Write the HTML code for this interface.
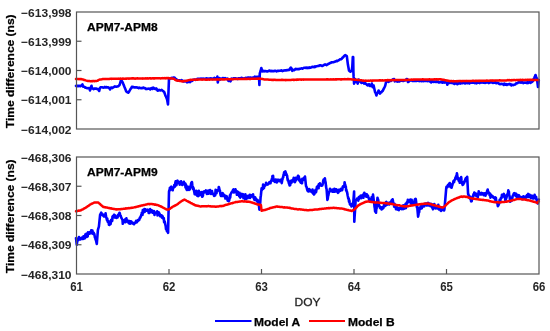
<!DOCTYPE html>
<html><head><meta charset="utf-8"><style>
html,body{margin:0;padding:0;background:#fff;}
svg{display:block;}
text{font-family:"Liberation Sans",Arial,sans-serif;stroke-linejoin:round;}
.ytk{font-size:11.3px;font-weight:bold;fill:#262626;stroke:#262626;stroke-width:0px;}
.xtk{font-size:12px;font-weight:bold;fill:#262626;stroke:#262626;stroke-width:0px;}
.ttl{font-size:11.4px;font-weight:bold;fill:#000;stroke:#000;stroke-width:0.25px;}
.yl{font-size:11px;font-weight:bold;fill:#000;stroke:#000;stroke-width:0.25px;}
.xl{font-size:11.1px;fill:#262626;stroke:#262626;stroke-width:0.3px;}
.lg{font-size:11.1px;font-weight:bold;fill:#000;stroke:#000;stroke-width:0.25px;}
</style></head><body>
<svg width="550" height="331" viewBox="0 0 550 331">
<rect width="550" height="331" fill="#fff"/>
<polyline points="76.0,85.9 76.6,85.6 77.3,86.1 77.9,86.3 78.6,85.9 79.2,85.8 79.9,86.1 80.5,86.2 81.1,85.7 81.8,85.3 82.4,84.4 83.3,86.8 84.0,86.7 84.7,86.9 85.3,87.7 86.0,87.7 86.7,87.9 87.4,88.3 88.2,88.2 88.9,88.1 89.6,88.2 90.0,90.5 90.6,88.2 91.5,85.8 92.0,88.4 92.7,88.4 93.5,89.2 94.2,88.6 94.9,88.6 95.6,88.6 96.4,88.6 97.1,89.0 97.8,89.1 98.5,90.0 99.2,90.9 100.0,87.8 100.5,87.3 101.1,87.2 101.7,87.3 102.3,87.4 102.9,87.5 103.6,87.6 104.2,87.4 104.8,86.9 105.4,87.5 106.0,87.3 106.7,87.1 107.4,87.5 108.2,87.4 108.9,87.9 109.6,88.0 110.0,89.5 110.5,87.9 111.1,87.5 111.7,87.6 112.3,88.2 113.0,87.2 113.6,87.2 114.2,86.8 114.9,86.4 115.6,86.6 116.4,86.7 117.1,86.5 117.8,86.4 118.7,85.8 119.6,85.0 120.3,82.5 121.0,80.0 121.9,81.1 122.8,82.7 123.7,85.1 124.6,87.3 125.3,88.9 126.0,90.9 126.8,92.0 127.5,92.0 128.3,92.7 129.2,91.5 130.0,90.0 130.6,88.9 131.3,88.1 131.9,86.8 132.5,86.7 133.2,87.2 133.8,87.1 134.5,87.5 135.1,87.3 135.7,87.5 136.3,87.5 136.9,87.3 137.5,87.7 138.1,87.7 138.7,88.1 139.3,87.6 140.0,87.9 140.6,88.1 141.2,88.0 141.8,88.1 142.4,88.1 143.0,87.8 143.6,87.6 144.2,88.2 144.8,88.0 145.4,88.6 146.0,89.1 146.6,88.8 147.2,88.9 147.8,88.8 148.5,88.8 149.1,88.6 149.7,88.9 150.3,89.4 150.9,88.4 151.5,88.6 152.1,88.0 152.7,89.0 153.3,87.7 154.0,88.1 154.7,88.8 155.5,89.1 156.2,88.4 156.9,89.3 157.6,90.7 158.2,90.5 158.9,89.9 159.6,90.0 160.3,90.5 161.0,90.3 161.7,89.9 162.4,90.5 163.3,91.2 164.2,92.0 164.8,93.7 165.4,95.6 166.0,96.6 167.1,99.6 168.0,104.4 169.0,78.5 169.6,78.6 170.2,78.3 170.8,78.5 171.4,77.8 172.0,78.1 172.6,78.0 173.2,77.6 173.8,77.5 174.7,77.8 175.6,79.0 176.2,79.1 176.8,79.7 177.4,80.0 178.0,80.6 178.6,80.5 179.2,80.3 179.9,80.6 180.5,80.8 181.1,80.6 181.7,80.1 182.4,81.0 183.0,80.8 183.7,81.5 184.3,81.4 185.0,81.0 185.7,81.3 186.3,81.6 187.0,82.3 187.6,82.0 188.3,82.0 189.1,81.9 189.9,82.1 190.7,81.5 191.5,81.0 192.2,81.0 193.0,80.0 193.6,79.7 194.3,79.6 194.9,79.8 195.5,79.9 196.2,79.6 196.8,79.4 197.5,78.7 198.1,78.9 198.7,78.8 199.4,78.7 200.0,78.7 200.6,78.8 201.2,78.6 201.9,78.9 202.5,78.7 203.1,78.6 203.8,78.7 204.4,78.8 205.0,78.9 205.6,78.5 206.2,78.6 206.9,78.3 207.5,79.0 208.1,79.0 208.8,78.6 209.4,78.5 210.0,78.6 210.6,78.3 211.3,78.6 211.9,78.6 212.5,79.1 213.2,78.6 213.8,78.4 214.5,77.9 215.1,78.9 215.7,78.6 216.4,78.1 217.0,78.5 217.4,76.5 217.8,82.5 218.5,78.6 219.1,78.6 219.7,78.2 220.3,79.5 220.9,78.9 221.5,78.7 222.1,78.6 222.7,78.1 223.3,78.6 223.9,78.2 224.5,78.7 225.1,78.1 225.7,78.4 226.3,78.9 226.9,79.0 227.5,78.6 228.5,81.0 229.2,80.8 229.8,80.8 230.5,81.3 231.5,78.7 232.1,78.9 232.7,78.9 233.3,78.4 233.9,78.4 234.5,78.4 235.1,78.3 235.8,78.4 236.4,78.8 237.0,78.7 237.6,79.0 238.2,78.4 238.8,78.4 239.4,78.2 240.0,78.4 240.6,78.3 241.2,78.0 241.9,77.8 242.5,78.4 243.1,78.6 243.7,78.4 244.4,78.5 245.0,78.2 245.6,77.9 246.2,78.0 246.9,77.9 247.5,77.7 248.1,77.5 248.7,77.5 249.4,77.8 250.0,77.8 250.6,77.6 251.2,78.1 251.9,77.7 252.5,77.8 253.1,77.6 253.7,77.8 254.3,77.1 254.9,76.7 255.6,77.3 256.2,76.8 256.8,77.2 257.4,76.7 258.2,76.9 259.0,77.0 259.4,84.9 259.8,73.4 260.6,71.0 261.3,68.0 262.4,71.3 263.0,71.5 263.6,70.8 264.2,71.4 264.8,71.1 265.4,71.1 266.0,71.1 266.6,71.4 267.2,71.4 267.9,71.4 268.5,70.8 269.1,71.0 269.7,70.6 270.3,71.1 270.9,71.3 271.5,70.9 272.1,71.2 272.7,71.1 273.3,71.1 273.9,71.3 274.5,70.8 275.1,70.8 275.7,70.8 276.3,71.4 276.9,71.2 277.5,70.8 278.1,70.9 278.8,70.9 279.4,70.8 280.0,70.7 280.6,70.7 281.2,70.4 281.8,70.5 282.4,71.1 283.0,70.8 283.6,70.6 284.2,70.5 284.9,70.4 285.5,70.4 286.2,70.4 286.8,70.0 287.5,70.2 288.1,70.1 288.8,69.8 289.4,69.9 290.1,68.5 290.8,67.5 291.6,68.5 292.3,70.8 292.9,70.3 293.6,69.9 294.2,70.1 294.9,69.6 295.5,68.9 296.2,69.3 296.8,69.1 297.4,69.0 298.1,69.1 298.7,69.3 299.4,68.9 300.0,68.8 300.7,68.7 301.3,68.4 302.0,68.5 302.6,68.6 303.3,68.2 303.9,67.9 304.6,67.8 305.2,67.7 305.9,67.9 306.5,67.5 307.1,68.1 307.7,67.8 308.3,67.6 309.0,68.0 309.6,67.4 310.2,67.7 310.8,67.7 311.4,67.4 312.0,66.9 312.6,66.8 313.2,66.8 313.8,67.1 314.4,67.1 315.0,66.4 315.6,66.8 316.2,66.3 316.8,66.3 317.5,66.1 318.1,65.9 318.8,65.9 319.4,65.4 320.1,65.5 320.8,65.3 321.4,65.7 322.1,65.9 322.7,66.0 323.4,65.2 324.0,65.0 324.6,64.5 325.2,64.8 325.9,64.5 326.5,65.1 327.1,64.7 327.7,64.4 328.4,63.8 329.2,63.7 329.9,63.0 330.5,63.0 331.2,62.3 331.8,62.4 332.4,62.3 333.0,62.2 333.7,62.1 334.3,61.9 334.9,61.6 335.5,61.5 336.1,61.1 336.8,60.8 337.4,61.1 338.0,60.6 338.6,60.3 339.3,60.1 339.9,59.2 340.6,59.2 341.2,59.1 341.9,58.6 342.6,57.6 343.2,57.4 343.9,56.3 344.5,55.8 345.2,55.0 346.0,55.5 346.8,56.0 347.9,64.6 349.0,70.6 349.7,71.2 350.4,71.7 351.2,71.2 351.8,70.3 352.3,66.8 352.8,57.0 353.2,57.1 353.4,72.0 353.6,76.4 354.1,83.6 355.0,79.0 355.9,81.8 356.8,81.4 357.7,83.6 358.6,79.5 359.3,81.2 360.0,81.4 360.7,81.5 361.4,83.0 362.0,81.9 362.7,82.7 363.4,82.4 364.1,83.6 364.8,82.7 365.5,83.6 366.2,83.7 366.9,84.8 367.5,85.4 368.2,85.0 369.0,84.2 369.7,85.9 370.5,85.9 371.1,85.9 371.8,83.6 372.7,87.3 373.6,85.5 374.5,89.5 375.1,92.2 375.8,93.4 376.4,95.5 377.0,93.7 377.7,92.7 378.6,90.5 379.3,91.9 380.0,93.6 380.7,92.3 381.4,92.3 382.0,91.4 382.7,90.9 383.3,89.6 383.9,88.4 384.5,87.3 385.2,85.7 385.9,82.7 386.6,81.9 387.3,81.4 388.0,80.4 388.7,81.8 389.5,80.5 390.2,80.7 390.9,80.9 391.5,80.5 392.2,80.0 392.8,79.2 393.5,79.3 394.1,79.1 394.8,81.3 395.5,80.9 396.1,80.5 396.8,80.8 397.4,81.6 398.1,81.3 398.7,81.4 399.4,81.4 400.0,80.9 400.6,80.4 401.2,80.6 401.9,80.8 402.5,80.8 403.1,81.0 403.8,80.7 404.4,80.5 405.0,80.5 405.7,80.0 406.3,79.4 407.0,79.0 408.0,82.0 408.7,81.6 409.3,81.2 410.0,80.5 410.6,80.5 411.2,80.4 411.9,80.4 412.5,80.9 413.1,81.0 413.7,81.0 414.3,81.0 414.9,81.0 415.6,80.8 416.2,81.0 416.8,80.9 417.4,80.6 418.1,80.8 418.7,80.7 419.3,81.1 419.9,80.8 420.6,80.9 421.2,81.0 421.8,81.2 422.5,80.7 423.1,80.7 423.7,81.1 424.3,80.6 425.0,81.0 425.6,80.8 426.2,80.9 426.9,80.4 427.5,81.1 428.1,80.8 428.7,80.7 429.4,81.4 430.0,80.9 430.6,81.3 431.3,82.5 431.9,81.3 432.5,81.1 433.1,81.4 433.8,82.0 434.4,81.5 435.0,81.8 435.6,81.9 436.3,81.4 436.9,81.9 437.5,81.7 438.1,81.5 438.8,82.4 439.4,82.4 440.0,82.3 440.6,82.0 441.3,81.6 441.9,82.5 442.5,82.7 443.2,82.5 443.8,81.8 444.4,82.5 445.1,81.9 445.7,82.5 446.4,82.6 447.0,82.5 447.3,84.7 448.0,82.8 448.6,83.0 449.3,83.0 449.9,83.0 450.5,82.6 451.2,82.9 451.8,82.9 452.5,83.1 453.1,83.3 453.7,83.5 454.4,84.0 455.0,83.4 455.6,82.4 456.2,83.5 456.8,83.3 457.4,84.2 458.0,83.7 458.6,82.6 459.2,83.4 459.8,83.0 460.4,83.6 461.0,82.8 461.6,83.1 462.2,83.1 462.8,83.1 463.4,82.9 464.0,82.3 464.6,83.2 465.2,83.4 465.8,83.0 466.4,82.6 467.0,83.1 467.6,83.2 468.2,82.9 468.8,82.9 469.4,83.4 470.0,82.6 470.6,82.7 471.2,82.3 471.8,82.8 472.4,82.6 473.0,82.6 473.6,82.5 474.2,82.6 474.8,83.2 475.4,82.7 476.0,82.7 476.6,83.3 477.2,82.7 477.9,82.3 478.5,82.8 479.1,82.5 479.7,83.1 480.3,82.4 480.9,82.5 481.5,82.3 482.1,82.7 482.7,82.4 483.3,82.6 483.9,82.5 484.5,82.5 485.1,82.9 485.7,82.8 486.3,82.6 486.9,82.4 487.5,82.3 488.2,82.6 488.8,83.2 489.4,82.4 490.0,82.4 490.6,82.4 491.2,82.3 491.8,82.3 492.4,82.5 493.0,82.9 493.6,82.5 494.2,82.6 494.9,82.6 495.5,82.2 496.2,83.1 496.8,83.1 497.4,82.8 498.1,83.0 498.7,83.5 499.4,84.1 500.0,83.8 500.6,84.1 501.2,84.0 501.9,83.8 502.5,84.1 503.1,84.0 503.8,84.9 504.4,83.7 505.0,84.0 505.6,84.7 506.2,84.1 506.9,84.9 507.5,84.3 508.1,84.4 508.8,84.3 509.4,83.9 510.0,84.5 510.7,84.2 511.3,85.5 512.0,84.9 512.7,84.9 513.3,85.1 514.0,84.8 514.7,84.6 515.3,84.4 516.0,83.5 516.7,83.2 517.3,83.3 518.0,82.5 518.6,82.4 519.2,82.0 519.8,82.4 520.4,82.3 521.0,82.7 521.6,82.2 522.2,82.1 522.8,82.4 523.4,83.1 524.0,82.5 524.6,82.6 525.2,82.5 525.8,82.6 526.4,82.9 527.0,83.1 527.6,81.8 528.2,83.0 528.8,82.5 529.4,82.4 530.0,82.5 530.6,82.8 531.2,81.9 531.8,82.1 532.4,81.5 533.0,81.0 533.6,79.2 534.2,78.1 534.9,76.7 535.5,75.0 536.2,77.0 537.0,79.0 538.0,87.0 538.8,80.0" fill="none" stroke="#0000ff" stroke-width="2.6" stroke-linejoin="round" stroke-linecap="round"/>
<polyline points="76.0,79.1 76.6,79.0 77.2,79.1 77.8,79.1 78.4,79.1 79.1,79.2 79.7,79.1 80.3,79.1 80.9,79.2 81.5,79.1 82.2,79.3 82.8,79.4 83.5,79.7 84.2,80.0 84.9,80.1 85.6,80.4 86.4,80.6 87.1,80.8 87.8,80.9 88.4,81.1 89.0,81.1 89.7,81.1 90.3,81.2 90.9,81.2 91.5,81.2 92.1,81.1 92.7,81.2 93.3,81.1 93.9,81.1 94.5,81.2 95.1,81.1 95.7,80.9 96.3,80.9 96.9,80.9 97.6,80.7 98.2,80.2 98.9,79.9 99.6,79.5 100.2,79.5 100.8,79.4 101.4,79.4 102.1,79.2 102.7,79.1 103.3,79.1 103.9,79.1 104.5,79.0 105.1,79.1 105.7,79.1 106.3,78.9 106.9,79.0 107.5,78.9 108.2,78.9 108.8,78.9 109.4,78.9 110.0,78.8 110.6,78.7 111.2,79.0 111.8,78.8 112.4,78.8 113.0,78.7 113.6,78.8 114.3,78.7 114.9,78.7 115.5,78.8 116.1,78.8 116.7,78.7 117.3,78.8 118.0,78.8 118.6,78.6 119.2,78.8 119.8,78.7 120.4,78.6 121.1,78.7 121.7,78.7 122.3,78.7 122.9,78.5 123.5,78.7 124.1,78.7 124.8,78.7 125.4,78.7 126.0,78.6 126.6,78.7 127.2,78.6 127.8,78.6 128.4,78.5 129.0,78.7 129.6,78.6 130.2,78.6 130.8,78.6 131.4,78.6 132.0,78.3 132.6,78.6 133.2,78.3 133.8,78.5 134.4,78.6 135.0,78.7 135.6,78.5 136.2,78.5 136.8,78.5 137.4,78.3 138.0,78.5 138.6,78.5 139.2,78.5 139.8,78.4 140.4,78.4 141.0,78.4 141.6,78.5 142.2,78.4 142.8,78.7 143.4,78.4 144.0,78.4 144.6,78.4 145.2,78.4 145.8,78.3 146.4,78.5 147.0,78.4 147.6,78.3 148.3,78.4 148.9,78.5 149.5,78.2 150.1,78.4 150.7,78.3 151.3,78.5 151.9,78.4 152.5,78.3 153.1,78.3 153.7,78.5 154.3,78.3 154.9,78.5 155.5,78.2 156.2,78.3 156.8,78.3 157.4,78.2 158.0,78.3 158.6,78.3 159.2,78.2 159.8,78.2 160.4,78.4 161.0,78.4 161.6,78.2 162.2,78.3 162.8,78.0 163.4,78.3 164.1,78.1 164.7,78.2 165.3,78.4 165.9,78.1 166.5,78.2 167.1,78.1 167.7,78.2 168.3,78.1 168.9,78.2 169.5,78.4 170.1,78.3 170.8,78.4 171.4,78.6 172.0,78.5 172.6,78.5 173.2,78.8 173.8,78.7 174.6,79.3 175.4,80.0 176.2,80.4 176.8,80.4 177.4,80.7 178.0,80.6 178.6,80.6 179.2,80.8 179.8,80.9 180.4,81.1 181.0,81.1 181.6,81.3 182.2,81.3 182.8,81.4 183.4,81.2 184.1,81.0 184.7,81.1 185.3,81.1 185.9,81.0 186.6,80.8 187.3,80.5 188.1,80.3 188.8,80.1 189.5,79.9 190.2,80.0 190.8,79.8 191.4,79.9 192.1,79.8 192.8,79.8 193.4,79.7 194.1,79.8 194.7,79.7 195.3,79.5 196.0,79.6 196.6,79.7 197.2,79.6 197.8,79.7 198.4,79.6 199.0,79.6 199.7,79.6 200.3,79.6 200.9,79.5 201.5,79.6 202.1,79.7 202.7,79.6 203.3,79.6 203.9,79.6 204.5,79.6 205.1,79.6 205.7,79.7 206.3,79.6 207.0,79.8 207.6,79.5 208.2,79.6 208.8,79.6 209.4,79.7 210.0,79.6 210.6,79.5 211.2,79.5 211.8,79.6 212.4,79.6 213.0,79.6 213.6,79.4 214.2,79.5 214.8,79.6 215.5,79.5 216.1,79.4 216.7,79.4 217.3,79.3 217.9,79.5 218.5,79.4 219.1,79.4 219.7,79.3 220.3,79.4 220.9,79.3 221.5,79.3 222.1,79.4 222.7,79.3 223.3,79.4 223.9,79.3 224.5,79.4 225.2,79.3 225.8,79.3 226.4,79.3 227.0,79.2 227.6,79.3 228.2,79.2 228.8,79.1 229.4,79.3 230.0,79.2 230.6,79.2 231.2,79.1 231.8,79.2 232.4,79.2 233.0,79.2 233.6,79.0 234.2,79.1 234.8,79.0 235.5,79.0 236.1,79.0 236.7,79.0 237.3,79.1 237.9,79.0 238.5,79.1 239.1,79.0 239.7,79.0 240.3,79.0 240.9,79.0 241.5,79.1 242.1,78.9 242.7,79.1 243.3,79.0 243.9,79.0 244.5,78.8 245.2,78.8 245.8,79.0 246.4,78.9 247.0,78.9 247.6,78.9 248.2,78.7 248.8,78.9 249.4,79.0 250.0,78.8 250.6,78.9 251.2,78.8 251.8,78.8 252.4,78.8 253.0,78.8 253.6,78.8 254.2,78.7 254.8,78.7 255.4,78.7 256.0,78.7 256.6,78.7 257.2,78.6 257.8,78.7 258.4,78.7 259.0,78.5 259.6,78.6 260.2,78.7 260.9,78.7 261.5,78.9 262.1,79.1 262.7,79.1 263.4,79.2 264.0,79.4 264.6,79.4 265.2,79.4 265.9,79.4 266.5,79.5 267.1,79.6 267.7,79.6 268.4,79.6 269.0,79.8 269.6,79.7 270.2,79.8 270.8,79.7 271.5,79.9 272.1,79.8 272.7,79.9 273.3,79.8 273.9,79.9 274.5,79.8 275.1,79.8 275.7,79.9 276.3,79.9 276.9,80.0 277.5,79.9 278.1,80.0 278.7,80.0 279.3,80.0 279.9,79.9 280.5,80.0 281.2,80.0 281.8,79.8 282.4,79.8 283.0,80.1 283.6,79.9 284.2,80.0 284.8,80.0 285.4,80.0 286.0,80.2 286.6,79.9 287.2,80.0 287.8,80.0 288.4,79.9 289.0,80.0 289.6,79.9 290.2,79.9 290.8,79.9 291.4,79.9 292.1,79.7 292.7,79.7 293.3,80.0 293.9,79.8 294.5,79.9 295.1,79.7 295.7,79.7 296.3,79.9 296.9,79.6 297.6,79.6 298.2,79.7 298.8,79.6 299.4,79.5 300.0,79.6 300.6,79.6 301.2,79.7 301.8,79.5 302.4,79.5 303.0,79.6 303.6,79.7 304.2,79.4 304.8,79.5 305.5,79.6 306.1,79.5 306.7,79.5 307.3,79.5 307.9,79.6 308.5,79.5 309.1,79.6 309.7,79.6 310.3,79.6 310.9,79.6 311.5,79.5 312.1,79.5 312.7,79.6 313.3,79.6 313.9,79.6 314.5,79.5 315.2,79.5 315.8,79.4 316.4,79.4 317.0,79.4 317.6,79.4 318.2,79.4 318.8,79.5 319.4,79.5 320.0,79.4 320.6,79.4 321.2,79.4 321.8,79.5 322.4,79.5 323.0,79.4 323.6,79.5 324.2,79.4 324.8,79.5 325.5,79.5 326.1,79.4 326.7,79.3 327.3,79.5 327.9,79.3 328.5,79.4 329.1,79.4 329.7,79.4 330.3,79.4 330.9,79.3 331.5,79.4 332.1,79.5 332.7,79.5 333.3,79.3 333.9,79.4 334.5,79.4 335.2,79.3 335.8,79.5 336.4,79.3 337.0,79.4 337.6,79.2 338.2,79.2 338.8,79.2 339.4,79.3 340.0,79.3 340.6,79.4 341.2,79.3 341.9,79.4 342.5,79.2 343.1,79.2 343.8,79.3 344.4,79.2 345.0,79.1 345.6,79.3 346.2,79.3 346.9,79.2 347.5,79.1 348.1,79.2 348.8,79.1 349.4,79.2 350.0,79.2 350.6,79.2 351.2,79.3 351.8,79.4 352.4,79.5 353.0,79.4 353.6,79.4 354.2,79.7 354.8,79.7 355.4,79.7 356.0,79.8 356.6,79.7 357.2,79.8 357.8,80.0 358.4,79.9 359.0,80.0 359.6,80.1 360.2,80.2 360.8,80.3 361.4,80.3 362.0,80.4 362.6,80.6 363.2,80.7 363.8,80.6 364.4,80.8 365.0,80.8 365.6,80.6 366.3,80.7 366.9,80.8 367.5,80.8 368.2,80.8 368.8,80.6 369.5,80.8 370.1,80.6 370.7,80.6 371.4,80.7 372.0,80.6 372.6,80.7 373.2,80.5 373.9,80.4 374.5,80.5 375.1,80.5 375.7,80.6 376.3,80.5 377.0,80.5 377.6,80.4 378.2,80.4 378.8,80.5 379.4,80.3 380.0,80.4 380.7,80.3 381.3,80.5 381.9,80.4 382.5,80.3 383.1,80.4 383.8,80.5 384.4,80.4 385.0,80.3 385.6,80.2 386.2,80.3 386.8,80.4 387.4,80.1 388.0,80.1 388.6,80.2 389.2,80.3 389.8,80.1 390.4,80.2 391.0,80.2 391.6,80.2 392.2,80.1 392.8,80.0 393.4,80.0 394.0,80.1 394.6,80.2 395.2,80.1 395.8,80.0 396.4,79.9 397.0,80.0 397.6,80.0 398.2,79.9 398.8,80.0 399.4,80.0 400.0,80.0 400.6,80.0 401.2,80.0 401.8,80.0 402.4,80.0 403.0,80.0 403.6,79.9 404.2,79.9 404.8,79.9 405.4,80.0 406.0,79.8 406.6,79.9 407.2,80.0 407.8,80.0 408.4,79.6 409.0,79.8 409.6,79.9 410.2,79.7 410.8,79.7 411.4,79.6 412.0,79.7 412.6,79.7 413.2,79.5 413.8,79.7 414.4,79.6 415.0,79.6 415.6,79.5 416.2,79.6 416.8,79.6 417.4,79.6 418.0,79.5 418.6,79.5 419.2,79.6 419.8,79.6 420.4,79.5 421.0,79.6 421.6,79.4 422.2,79.5 422.8,79.3 423.4,79.5 424.0,79.6 424.6,79.5 425.2,79.5 425.8,79.4 426.4,79.5 427.0,79.5 427.6,79.4 428.2,79.6 428.8,79.4 429.4,79.3 430.0,79.4 430.6,79.5 431.2,79.4 431.8,79.4 432.4,79.4 433.0,79.5 433.6,79.4 434.2,79.3 434.8,79.5 435.4,79.4 436.0,79.2 436.6,79.4 437.2,79.3 437.8,79.4 438.4,79.5 439.0,79.3 439.6,79.3 440.2,79.2 440.8,79.3 441.4,79.4 442.0,79.6 442.6,79.7 443.2,79.8 443.9,79.7 444.5,80.1 445.1,80.2 445.7,80.2 446.3,80.4 446.9,80.5 447.5,80.5 448.1,80.8 448.8,80.7 449.4,81.1 450.0,81.1 450.6,81.2 451.2,81.1 451.8,81.1 452.4,81.2 453.0,81.2 453.6,81.1 454.2,81.2 454.8,81.2 455.4,81.2 456.1,81.2 456.7,81.2 457.3,81.0 457.9,81.3 458.5,81.0 459.1,81.0 459.7,81.0 460.3,81.1 460.9,81.1 461.5,81.2 462.1,81.1 462.7,81.0 463.3,81.0 463.9,81.0 464.5,81.0 465.1,81.0 465.7,80.9 466.3,81.1 467.0,81.0 467.6,81.0 468.2,80.9 468.8,80.9 469.4,81.0 470.0,80.9 470.6,81.1 471.2,81.0 471.8,80.9 472.4,80.8 473.0,80.8 473.6,80.8 474.2,80.9 474.8,81.0 475.4,80.8 476.0,80.9 476.6,80.8 477.2,80.8 477.9,80.9 478.5,80.8 479.1,81.0 479.7,80.8 480.3,80.8 480.9,80.8 481.5,80.8 482.1,80.9 482.7,80.7 483.3,80.7 483.9,80.7 484.5,80.9 485.1,80.8 485.7,80.7 486.3,80.7 486.9,80.5 487.5,80.7 488.2,80.7 488.8,80.7 489.4,80.7 490.0,80.6 490.6,80.6 491.2,80.6 491.8,80.6 492.4,80.7 493.0,80.4 493.6,80.6 494.2,80.7 494.8,80.6 495.4,80.5 496.0,80.6 496.6,80.6 497.2,80.5 497.9,80.6 498.5,80.5 499.1,80.5 499.7,80.3 500.3,80.6 500.9,80.4 501.5,80.4 502.1,80.4 502.7,80.5 503.3,80.4 503.9,80.5 504.5,80.4 505.1,80.4 505.7,80.4 506.4,80.4 507.0,80.3 507.6,80.1 508.2,80.0 508.8,80.3 509.4,80.1 510.0,80.2 510.6,80.3 511.2,80.4 511.8,80.0 512.4,80.2 513.0,80.2 513.6,80.1 514.2,80.0 514.8,80.1 515.5,80.2 516.1,80.1 516.7,80.1 517.3,80.1 517.9,80.0 518.5,80.1 519.1,80.2 519.7,79.9 520.3,79.8 520.9,80.1 521.5,79.9 522.1,79.9 522.7,79.8 523.3,79.9 523.9,79.9 524.5,79.9 525.2,79.9 525.8,79.8 526.4,79.9 527.0,79.9 527.6,79.7 528.2,79.8 528.8,79.9 529.4,79.8 530.0,79.8 530.6,79.8 531.2,79.9 531.8,79.8 532.4,79.8 533.0,79.9 533.6,79.9 534.2,79.9 534.9,79.9 535.5,80.0 536.1,80.0 536.7,80.0 537.3,80.0 537.9,80.0 538.5,80.0" fill="none" stroke="#ff0000" stroke-width="2.5" stroke-linejoin="round" stroke-linecap="round"/>
<polyline points="76.0,238.2 76.8,244.8 77.5,238.5 77.9,238.5 78.2,240.3 78.6,238.0 78.9,237.0 79.3,239.0 79.6,239.2 80.0,239.5 80.3,239.2 80.6,239.3 80.9,238.5 81.3,238.0 81.6,237.7 81.9,238.2 82.3,238.0 82.6,238.2 82.9,239.0 83.2,238.5 83.5,236.3 83.8,238.1 84.1,237.1 84.5,238.1 84.8,238.3 85.1,237.1 85.4,234.4 85.7,236.7 86.0,235.7 86.3,233.9 86.7,237.0 87.0,234.4 87.3,234.6 87.7,236.5 88.0,232.4 88.3,234.1 88.6,232.7 89.0,233.0 89.3,233.2 89.6,232.3 89.9,233.6 90.2,232.4 90.5,232.8 90.9,232.9 91.2,230.2 91.5,233.3 91.8,231.5 92.1,231.7 92.4,230.5 92.7,231.9 93.0,233.8 93.4,234.2 93.7,232.8 94.0,233.9 94.3,234.0 94.6,235.6 94.9,237.6 95.3,237.5 95.6,239.9 95.9,239.9 96.8,244.0 97.9,229.9 98.9,226.6 100.1,214.9 100.9,213.3 101.2,212.7 101.5,213.1 101.8,214.7 102.2,215.0 102.5,214.4 102.8,215.3 103.1,215.0 103.4,214.9 103.7,216.0 104.0,216.5 104.3,215.9 104.7,216.3 105.0,215.2 105.3,215.1 105.6,213.3 105.9,215.8 106.2,217.5 106.6,218.3 106.9,220.0 107.3,218.6 107.6,221.6 107.9,221.7 108.2,222.1 108.6,221.2 108.9,224.6 109.2,224.0 109.5,224.9 109.9,221.8 110.2,223.2 110.6,224.0 110.9,221.6 111.2,219.7 111.5,221.3 111.8,221.2 112.2,220.8 112.5,216.6 112.8,216.2 113.1,216.9 113.4,215.8 113.7,217.3 114.0,214.8 114.3,215.4 114.7,215.1 115.0,217.6 115.3,215.9 115.6,217.2 115.9,216.6 116.2,217.3 116.5,217.8 116.8,216.9 117.2,216.7 117.5,217.5 117.8,216.6 118.1,214.7 118.4,215.8 119.5,212.8 119.8,213.2 120.2,215.6 120.5,215.7 120.8,216.0 121.2,217.5 121.5,218.0 122.5,220.0 122.8,223.8 123.1,220.2 123.4,220.9 123.7,221.0 124.0,220.3 124.3,221.9 124.6,221.6 124.9,221.2 125.2,219.4 125.5,222.3 125.8,221.9 126.1,221.1 126.4,218.3 126.7,221.2 127.0,221.3 127.3,220.2 127.6,221.3 127.9,221.1 128.2,220.8 128.5,222.9 128.8,222.0 129.2,223.3 129.5,221.0 129.8,221.9 130.1,223.7 130.4,222.6 130.7,221.6 131.0,222.3 131.3,221.5 131.6,221.9 132.0,222.5 132.3,223.4 132.6,222.8 132.9,223.6 133.3,223.7 133.6,223.0 133.9,224.3 134.2,223.8 134.6,222.8 134.9,222.9 135.2,223.0 135.5,222.8 135.8,221.8 136.1,220.9 136.4,222.1 136.7,221.3 137.0,222.2 137.3,221.2 137.7,220.4 138.0,220.9 138.4,220.7 138.7,219.7 139.1,220.1 139.4,219.5 139.8,217.9 140.1,217.3 140.4,217.7 140.8,216.4 141.2,215.0 141.5,214.0 141.8,212.8 142.1,214.0 142.5,214.9 142.8,210.0 143.1,213.1 143.4,211.7 143.7,212.2 144.1,211.9 144.4,209.1 144.7,209.6 145.0,211.6 145.3,209.2 145.6,209.6 145.9,210.6 146.2,209.8 146.5,210.0 146.8,210.6 147.1,210.0 147.5,209.7 147.8,211.0 148.1,210.0 148.4,211.3 148.7,212.9 149.0,211.7 149.3,213.0 149.6,210.2 149.9,209.4 150.2,209.2 150.6,211.3 150.9,210.3 151.2,212.1 151.5,210.2 151.8,210.3 152.1,212.1 152.4,211.5 152.7,211.8 153.0,212.8 153.3,213.0 153.6,212.6 153.9,211.0 154.2,211.5 154.5,215.0 154.8,212.4 155.1,213.1 155.4,213.0 155.7,213.0 156.0,213.0 156.3,213.0 156.6,212.7 156.9,212.8 157.2,211.3 157.5,215.4 157.8,213.5 158.1,212.3 158.4,214.4 158.7,214.6 159.0,212.5 159.3,214.0 159.6,213.8 159.9,216.2 160.3,215.4 160.6,215.5 160.9,216.3 161.2,215.3 161.5,215.3 161.9,217.6 162.2,215.9 162.5,216.2 162.8,217.0 163.1,218.5 163.4,218.7 163.8,218.1 164.1,222.2 164.4,220.9 164.7,221.6 165.7,226.1 166.0,229.0 166.3,228.4 166.6,227.7 166.9,231.1 167.2,230.1 167.5,231.0 168.1,232.8 168.7,205.0 169.0,191.7 169.3,190.3 169.6,190.6 169.9,187.7 170.2,190.1 170.5,187.7 170.8,188.1 171.1,187.8 171.4,186.7 171.7,189.0 172.0,188.4 172.4,189.4 172.7,190.2 173.0,188.0 173.3,187.6 173.6,187.2 173.9,187.3 174.3,185.1 174.6,185.0 174.9,186.6 175.2,183.6 175.6,181.4 175.9,183.4 176.2,183.8 176.5,185.2 176.9,181.4 177.2,181.8 177.5,180.7 177.8,182.4 178.1,182.2 178.4,182.9 178.7,181.9 179.0,183.2 179.3,182.1 179.6,184.7 179.9,183.7 180.2,184.3 180.5,182.9 180.8,183.6 181.1,181.4 181.5,183.5 181.8,183.3 182.2,185.0 182.5,184.7 182.8,183.0 183.2,182.9 183.5,182.7 183.8,181.8 184.2,183.7 184.5,184.5 184.8,184.0 185.2,183.4 185.5,187.5 185.9,184.6 186.2,186.3 186.5,189.4 186.8,189.1 187.1,190.0 187.4,186.8 187.7,189.4 188.0,186.7 188.3,188.7 188.6,187.3 188.9,189.9 189.2,188.2 189.5,187.9 189.8,189.4 190.1,188.9 190.5,186.0 190.8,185.4 191.1,183.7 191.4,182.7 191.7,183.6 192.0,182.0 192.3,185.4 192.6,187.6 192.9,186.6 193.2,189.3 193.5,188.0 193.8,189.2 194.1,190.9 194.4,192.6 194.7,194.3 195.0,192.3 195.3,194.4 195.7,192.9 196.0,191.9 196.3,190.7 196.6,193.2 196.9,192.7 197.2,195.7 197.5,195.1 197.8,192.1 198.2,196.1 198.5,195.8 198.8,190.7 199.1,195.2 199.4,193.5 199.7,195.3 200.0,192.3 200.4,193.4 200.7,195.0 201.0,194.4 201.3,194.5 201.6,194.5 201.9,192.0 202.3,196.8 202.6,193.7 202.9,196.0 203.2,192.4 203.5,191.9 203.8,192.9 204.1,192.4 204.4,191.4 204.7,191.9 205.0,191.6 205.3,192.2 205.6,191.2 205.9,190.4 206.2,191.0 206.6,192.1 206.9,194.0 207.2,192.3 207.6,193.6 207.9,193.3 208.3,190.5 208.6,193.8 208.9,192.3 209.2,192.1 209.5,191.1 209.8,192.1 210.1,190.1 210.4,193.0 210.7,191.5 211.0,194.0 211.3,191.8 211.6,193.0 212.0,191.0 212.3,193.1 212.7,194.0 213.0,193.5 213.3,194.4 213.7,193.9 214.0,195.9 214.3,194.3 214.6,195.2 214.9,193.7 215.2,195.4 215.6,189.8 215.9,191.1 216.2,191.2 216.5,193.3 216.8,190.4 217.1,191.6 217.5,190.5 217.8,190.3 218.1,190.6 218.5,188.7 218.8,187.0 219.2,188.2 219.5,190.3 219.9,190.5 220.2,192.7 220.6,195.1 220.9,195.9 221.2,195.1 221.6,195.8 221.9,194.8 222.2,193.3 222.6,193.0 222.9,196.0 223.3,194.8 223.6,194.5 223.9,196.1 224.2,195.0 224.5,195.5 224.8,196.2 225.1,195.6 225.4,198.5 225.7,198.2 226.0,197.6 226.3,197.2 226.6,196.2 227.0,197.4 227.3,198.9 227.7,200.8 228.0,199.5 228.3,199.9 228.7,201.2 229.0,200.8 229.3,199.8 229.6,198.1 229.9,195.4 230.2,197.7 230.5,194.5 231.7,192.2 232.0,192.1 232.3,191.4 232.6,192.0 232.9,190.1 233.3,189.5 233.6,189.3 233.9,192.5 234.2,189.9 234.5,191.8 234.8,192.1 235.2,190.2 235.5,189.3 235.8,191.1 236.2,191.0 236.5,191.1 236.9,194.8 237.2,192.2 237.5,192.8 237.8,191.8 238.2,194.3 238.5,193.2 238.8,193.4 239.2,196.4 239.6,192.9 239.9,195.9 240.2,197.6 240.6,194.5 240.9,195.1 241.2,196.5 241.6,194.7 241.9,193.9 242.3,195.9 242.6,196.5 242.9,196.2 243.2,194.3 243.5,198.3 243.9,195.7 244.2,196.1 244.5,196.8 244.8,197.3 245.1,199.0 245.4,194.3 245.8,197.6 246.1,199.0 246.4,198.2 246.7,197.9 247.0,197.7 247.3,196.0 247.6,198.1 247.9,196.8 248.3,197.6 248.6,195.7 248.9,196.7 249.2,196.9 249.5,197.0 249.8,194.7 250.1,197.9 250.4,196.6 250.8,195.3 251.1,196.3 251.4,196.6 251.7,196.1 252.0,195.2 252.4,196.0 252.7,194.7 253.0,194.3 253.3,196.0 253.6,197.6 253.9,198.5 254.2,199.1 254.5,199.9 254.8,199.3 255.1,197.2 255.4,198.0 255.7,200.1 256.0,198.8 256.3,199.7 256.6,199.8 257.0,200.6 257.3,201.5 257.6,200.0 257.9,201.9 258.3,202.9 258.6,202.8 259.4,209.6 259.7,204.6 260.0,205.0 260.3,201.8 260.6,197.2 260.9,195.2 261.6,188.4 261.9,190.1 262.2,188.4 262.5,188.2 262.8,189.1 263.1,184.5 263.4,187.0 263.7,187.9 264.0,188.1 264.3,186.3 264.6,186.1 264.9,185.8 265.2,185.0 265.5,185.3 265.8,184.6 266.1,182.8 266.5,184.6 266.8,184.0 267.1,184.3 267.4,184.3 267.7,184.6 268.0,183.8 268.3,184.1 268.6,183.6 268.9,183.0 269.2,182.4 269.5,182.6 269.9,182.1 270.2,182.0 270.5,183.3 270.8,181.8 271.1,180.8 271.4,180.9 272.2,177.8 272.5,176.0 272.8,177.0 273.1,175.8 273.4,180.2 273.7,180.9 274.0,179.7 274.3,180.0 274.6,181.3 274.9,181.8 275.2,181.6 275.5,179.6 275.8,181.1 276.1,180.9 276.5,179.8 276.8,182.5 277.1,181.6 277.4,180.1 277.7,180.6 278.1,179.9 278.4,179.8 278.7,179.8 279.0,180.1 279.3,181.3 279.6,180.4 279.9,180.1 280.2,180.0 280.5,181.1 280.8,180.1 281.1,179.5 281.4,181.2 281.7,183.1 282.0,181.6 282.3,179.5 282.6,179.0 282.9,177.3 283.2,177.4 283.5,174.8 283.8,174.7 284.1,172.3 284.4,174.8 284.7,172.4 285.0,171.8 285.3,171.3 285.6,172.2 285.9,173.2 286.2,174.8 286.5,174.1 286.8,175.0 287.1,175.7 287.5,179.1 287.8,180.5 288.1,180.1 288.4,180.8 288.7,182.4 289.0,183.7 289.3,184.0 289.6,185.4 289.9,183.8 290.2,185.2 290.5,182.3 290.9,180.9 291.2,182.8 291.5,182.8 291.8,180.9 292.1,181.7 292.4,180.0 292.8,180.4 293.1,179.5 293.4,180.0 293.7,177.9 294.0,179.5 294.3,181.8 294.7,179.1 295.0,182.1 295.3,180.3 295.6,180.1 295.9,177.7 296.2,180.3 296.5,178.0 296.8,179.2 297.1,178.0 297.4,177.5 297.7,177.3 298.0,175.7 298.3,175.9 298.6,176.3 298.9,176.9 299.2,180.3 299.5,178.9 299.8,180.9 300.1,181.6 300.4,181.9 300.7,182.6 301.1,180.8 301.4,181.1 301.7,179.8 302.0,183.3 302.3,178.8 302.7,180.5 303.0,179.7 303.3,179.9 303.6,179.4 304.0,178.0 304.3,177.5 304.7,178.3 305.0,176.6 305.8,184.1 306.1,186.4 306.5,186.7 306.8,187.9 307.2,189.6 307.5,190.7 307.8,190.6 308.1,191.2 308.4,191.5 308.8,191.2 309.1,189.0 309.4,190.7 309.7,189.6 310.0,191.2 310.3,190.4 310.7,191.0 311.0,190.6 311.3,191.7 311.6,190.7 311.9,192.3 312.2,191.2 312.5,189.6 312.8,191.3 313.1,193.6 313.5,190.9 313.8,191.7 314.1,194.5 314.4,193.9 314.7,192.9 315.0,192.4 315.3,192.0 315.6,189.7 316.0,192.2 316.3,190.7 316.6,189.1 316.9,186.8 317.3,187.8 317.6,187.2 317.9,186.7 318.2,185.5 318.6,188.3 318.9,184.1 319.2,186.0 319.6,184.6 319.9,183.3 320.2,183.8 320.6,184.8 320.9,185.5 321.3,184.4 321.6,185.7 321.9,184.6 322.3,185.5 322.6,184.5 322.9,183.2 323.2,180.8 323.6,179.6 323.9,182.1 324.2,181.3 324.6,179.6 324.9,178.3 325.2,180.9 325.6,182.3 325.9,185.3 326.3,188.2 326.6,189.1 327.4,199.9 327.7,199.1 328.1,196.0 328.4,195.3 328.8,192.7 329.1,191.6 329.4,191.4 329.7,190.2 330.0,188.7 330.4,190.0 330.7,191.2 331.0,190.0 331.3,191.3 331.6,190.0 331.9,190.8 332.3,189.8 332.6,191.7 332.9,189.6 333.2,189.9 333.5,190.0 333.8,191.2 334.1,191.6 334.4,188.9 334.8,191.7 335.1,189.1 335.4,189.3 335.7,189.4 336.0,191.4 336.3,189.3 336.6,191.1 336.9,191.0 337.3,190.4 337.6,191.1 337.9,192.9 338.2,190.7 338.5,192.4 338.8,189.7 339.1,190.8 339.4,190.0 339.7,190.2 340.0,189.7 340.3,190.8 340.6,189.3 340.9,188.8 341.2,190.1 341.5,189.9 341.8,189.7 342.1,190.2 342.4,189.1 342.7,186.9 343.0,186.3 343.4,187.1 343.7,186.5 344.0,186.5 344.3,186.6 344.6,182.3 344.9,184.1 345.2,184.6 345.5,187.0 345.8,186.4 346.1,190.4 346.4,189.7 346.7,191.6 347.0,191.9 347.3,193.2 347.6,195.3 348.0,197.0 348.3,198.8 348.7,198.4 349.0,201.5 349.3,200.2 349.7,202.8 350.0,204.4 350.4,204.0 350.7,204.9 351.0,204.9 351.4,206.4 351.7,206.1 352.0,205.5 352.3,203.7 352.6,204.1 353.0,202.8 353.3,202.2 354.1,191.6 354.3,221.8 354.6,216.6 355.0,211.2 355.3,206.6 355.6,200.7 355.9,200.4 356.2,200.5 356.5,199.9 356.8,199.3 357.1,198.6 357.4,199.2 357.7,199.1 358.0,200.0 358.3,200.6 358.6,197.7 358.9,197.0 359.2,196.9 359.5,198.6 359.8,197.0 360.1,197.5 360.4,195.9 360.7,197.8 361.0,195.6 361.3,198.1 361.6,196.9 361.9,195.8 362.2,196.7 362.5,197.3 362.8,195.1 363.1,195.7 363.4,197.8 363.7,193.9 364.0,195.2 364.3,192.8 364.6,194.6 364.9,195.2 365.2,194.8 365.5,193.9 365.8,194.0 366.1,196.7 366.5,196.2 366.8,194.4 367.1,196.7 367.4,195.0 367.7,196.1 368.0,195.8 368.3,197.6 368.6,197.6 368.9,198.8 369.2,199.9 369.5,198.7 369.8,200.4 370.1,200.7 370.4,199.2 370.7,201.4 371.0,201.3 371.4,200.6 371.7,197.1 372.0,197.2 372.3,197.6 372.7,196.6 373.0,194.6 373.3,196.7 373.6,199.2 373.9,201.6 374.2,203.0 374.5,206.7 374.8,208.1 375.1,211.4 375.4,208.9 375.7,211.6 376.0,212.8 376.3,208.8 376.6,208.4 376.9,202.1 377.2,201.7 377.5,197.7 377.8,199.5 378.1,199.4 378.4,201.3 378.8,203.0 379.1,206.0 379.4,205.8 379.7,206.7 380.0,208.1 380.3,208.2 380.6,207.3 380.9,207.4 381.2,207.4 381.6,209.4 381.9,209.2 382.2,209.0 382.5,207.4 382.8,208.2 383.1,207.5 383.4,208.1 383.7,206.7 384.0,205.0 384.3,204.4 384.6,206.0 384.9,205.9 385.2,205.2 385.5,205.8 385.8,203.7 386.1,202.1 386.4,201.9 386.7,203.9 387.0,204.7 387.3,202.9 387.6,204.0 387.9,204.1 388.2,203.2 388.5,202.9 388.8,203.4 389.1,203.6 389.4,204.5 389.7,203.4 390.0,202.7 390.3,203.7 390.6,202.0 391.0,202.0 391.3,202.3 391.6,200.3 391.9,200.1 392.3,200.4 392.6,199.2 392.9,200.6 393.2,203.5 393.5,203.0 393.9,204.2 394.2,206.8 394.5,203.7 394.8,206.7 395.1,205.2 395.4,206.5 395.7,207.8 396.0,209.2 396.4,208.9 396.7,208.0 397.0,207.3 397.3,209.5 397.6,209.1 397.9,209.7 398.2,208.6 398.5,208.2 398.8,210.1 399.1,208.9 399.4,209.3 399.7,208.9 400.0,208.1 400.3,208.2 400.6,208.0 400.9,208.5 401.2,208.4 401.5,207.8 401.8,209.1 402.1,207.5 402.4,208.7 402.7,208.6 403.0,209.1 403.3,205.3 403.6,208.5 403.9,208.7 404.3,207.8 404.6,206.5 404.9,206.1 405.2,205.6 405.6,203.9 405.9,208.1 406.2,204.2 406.5,204.4 406.9,202.2 407.2,203.0 407.5,202.2 407.8,199.9 408.1,201.9 408.4,200.8 408.8,201.4 409.1,201.6 409.4,202.2 409.7,200.6 410.0,200.3 410.3,199.5 410.7,200.6 411.0,202.2 411.4,204.0 411.7,199.9 412.0,201.7 412.4,202.7 412.7,204.0 413.0,203.1 413.4,203.4 413.7,203.6 414.0,202.2 414.4,202.5 414.7,199.8 415.1,199.0 415.4,199.4 415.7,198.8 416.0,200.9 416.3,203.6 416.6,204.1 416.9,207.5 417.2,206.7 418.1,216.6 418.5,214.5 418.8,212.2 419.2,212.2 419.5,207.8 419.9,208.5 420.2,209.0 420.5,208.3 420.8,206.2 421.1,207.9 421.4,207.4 421.8,208.3 422.1,206.5 422.4,205.9 422.7,206.3 423.0,205.9 423.3,204.7 423.6,205.8 423.9,206.4 424.3,206.3 424.6,204.4 424.9,204.4 425.2,203.6 425.6,204.1 425.9,203.7 426.2,204.3 426.5,204.8 426.9,205.5 427.2,204.0 427.5,203.0 427.8,203.3 428.1,203.0 428.4,204.3 428.7,205.4 429.0,203.7 429.3,204.8 429.6,203.9 429.9,203.6 430.2,204.7 430.5,206.3 430.8,205.8 431.1,205.3 431.4,203.9 431.8,204.8 432.1,205.7 432.4,208.2 432.7,204.9 433.0,209.3 433.3,207.4 433.7,207.9 434.0,207.6 434.3,204.0 434.6,207.1 434.9,207.2 435.2,207.6 435.6,208.5 435.9,207.2 436.2,207.6 436.5,206.6 436.8,208.1 437.1,207.9 437.4,208.3 437.7,207.4 438.0,207.9 438.3,204.8 438.6,208.4 438.9,209.4 439.3,208.5 439.6,208.4 439.9,209.3 440.2,208.4 440.5,208.6 440.8,210.7 441.1,210.9 441.4,207.2 441.7,209.4 442.0,208.6 442.4,209.5 442.7,210.0 443.0,208.0 443.4,208.6 443.7,209.9 444.1,210.5 444.4,209.4 445.3,199.4 446.2,188.6 446.5,186.8 446.8,186.9 447.1,186.3 447.4,187.2 447.7,185.9 448.0,184.9 448.3,184.9 448.6,186.2 448.9,184.7 449.2,183.7 449.5,185.0 449.8,183.1 450.1,185.5 450.4,186.0 450.7,187.2 451.0,186.4 451.3,184.6 451.6,187.6 452.0,185.9 452.3,185.2 452.7,183.7 453.0,183.3 453.4,181.3 453.7,180.9 454.1,182.1 454.4,180.1 454.7,179.9 455.1,179.5 455.4,177.7 455.7,178.8 456.0,176.3 456.3,177.9 456.6,175.9 456.9,173.3 457.2,175.0 457.5,177.9 457.8,177.4 458.1,179.5 458.5,178.1 458.8,180.9 459.1,181.3 459.5,180.0 459.8,182.8 460.2,181.3 460.5,179.1 460.9,178.6 461.2,177.1 461.5,180.7 461.8,182.1 462.1,182.7 462.4,184.2 462.7,184.9 463.0,184.0 463.3,184.4 463.6,183.5 463.9,181.7 464.2,182.8 464.5,181.3 464.8,181.3 465.2,180.0 465.5,178.9 465.9,178.1 466.2,180.9 466.5,180.4 466.9,178.2 467.2,176.8 468.1,194.0 468.5,194.4 468.8,196.6 469.2,195.9 469.5,196.5 469.9,198.5 470.2,196.8 470.5,198.8 470.8,199.1 471.1,201.4 471.4,201.1 471.7,201.2 472.0,199.3 472.3,198.4 472.6,197.4 473.0,196.3 473.3,195.2 473.6,194.0 473.9,195.3 474.3,192.5 474.6,194.4 474.9,194.4 475.2,195.3 475.6,194.4 475.9,193.7 476.2,195.5 476.5,195.9 476.9,194.0 477.2,194.9 477.5,195.9 477.8,197.3 478.1,193.9 478.4,195.0 478.7,191.4 479.0,194.3 479.3,192.9 479.6,194.2 479.9,193.3 480.2,193.7 480.5,194.5 480.8,193.1 481.1,194.3 481.5,194.4 481.8,192.9 482.1,193.6 482.4,193.9 482.8,193.6 483.1,193.4 483.4,194.5 483.7,195.1 484.1,194.5 484.4,194.9 484.7,193.4 485.0,195.4 485.3,193.4 485.6,195.6 485.9,193.7 486.2,193.4 486.5,194.1 486.8,192.6 487.1,190.9 487.4,192.1 487.7,189.5 488.0,191.3 488.3,192.1 488.6,192.2 488.9,193.1 489.2,192.9 489.6,195.3 489.9,193.9 490.2,193.6 490.5,197.7 490.8,194.9 491.1,195.3 491.5,196.4 491.8,195.7 492.1,195.9 492.5,196.5 492.8,196.3 493.2,197.2 493.5,197.6 493.8,197.8 494.2,197.9 494.5,198.1 494.9,199.0 495.2,197.3 495.5,200.6 495.9,197.9 496.2,201.2 496.5,201.4 496.8,202.3 497.1,202.3 497.5,203.6 497.8,206.2 498.1,205.0 498.4,205.5 498.7,204.0 499.0,203.9 499.4,201.8 499.7,199.7 500.0,199.8 500.4,200.4 500.7,198.5 501.0,197.9 501.3,198.1 501.6,197.9 501.9,194.9 502.2,195.0 502.6,195.4 502.9,194.6 503.2,196.3 503.5,194.4 503.8,193.9 504.1,194.9 504.4,197.3 504.7,195.4 505.0,196.6 505.3,200.3 505.6,200.2 505.9,199.3 506.2,198.1 506.5,197.9 506.8,195.8 507.1,195.2 507.4,194.2 507.7,195.0 508.0,192.7 508.3,190.4 508.6,191.1 508.9,191.7 509.2,195.7 509.5,195.8 509.8,197.9 510.1,201.7 510.4,200.2 510.7,198.5 511.1,199.7 511.4,201.0 511.7,200.2 512.0,197.6 512.3,198.3 512.6,196.3 513.0,195.4 513.3,195.4 513.6,194.1 513.9,193.4 514.2,193.1 514.5,193.7 514.9,193.8 515.2,194.7 515.5,195.7 515.8,193.5 516.1,194.5 516.4,194.1 516.8,197.3 517.1,196.6 517.4,196.3 517.7,196.4 518.0,195.4 518.3,197.6 518.6,195.6 518.9,195.2 519.2,196.3 519.5,198.5 519.8,197.2 520.1,197.0 520.4,197.0 520.7,198.8 521.0,197.0 521.3,197.5 521.6,198.8 521.9,199.1 522.2,198.7 522.5,198.4 522.8,198.9 523.1,198.8 523.4,196.2 523.7,198.2 524.0,197.5 524.3,197.9 524.6,197.9 524.9,198.2 525.2,197.9 525.5,198.5 525.8,196.4 526.1,196.5 526.4,196.5 526.7,196.7 527.0,195.0 527.3,196.5 527.6,197.0 527.9,195.4 528.2,193.9 528.5,196.4 528.8,196.9 529.1,195.7 529.4,196.6 529.7,194.9 530.0,196.3 530.3,195.2 530.6,195.2 530.9,198.2 531.2,196.7 531.6,195.8 531.9,197.8 532.2,195.8 532.5,196.5 532.8,197.2 533.1,198.6 533.4,198.2 533.7,196.6 534.0,198.2 534.3,198.0 534.6,194.8 534.9,197.0 535.2,198.1 535.5,197.4 535.8,197.2 536.1,196.9 536.4,199.7 536.7,199.1 537.1,201.4 537.4,201.8 537.7,203.5 538.0,203.2 538.8,199.5" fill="none" stroke="#0000ff" stroke-width="2.6" stroke-linejoin="round" stroke-linecap="round"/>
<polyline points="76.0,211.3 76.6,211.3 77.2,211.1 77.9,210.8 78.5,210.6 79.1,210.7 79.8,210.6 80.4,210.4 81.0,210.3 81.6,209.8 82.2,209.6 82.9,209.4 83.5,208.8 84.1,208.6 84.8,208.2 85.4,207.9 86.0,207.5 86.6,207.1 87.2,206.6 87.9,206.2 88.5,205.9 89.1,205.3 89.8,204.9 90.4,204.4 91.0,204.1 91.7,203.7 92.3,203.5 93.0,203.2 93.6,202.9 94.3,202.5 95.0,202.6 95.7,202.5 96.3,202.5 97.0,202.6 97.7,202.5 98.4,202.5 99.0,203.2 99.7,203.7 100.3,204.2 100.9,205.0 101.5,205.4 102.2,206.0 102.8,206.5 103.4,207.0 104.0,207.0 104.7,207.2 105.3,207.3 106.0,207.5 106.6,207.6 107.3,207.6 107.9,207.8 108.6,208.0 109.2,208.0 109.8,208.2 110.4,208.4 111.0,208.3 111.6,208.5 112.2,208.7 112.9,208.7 113.5,208.9 114.1,209.0 114.7,209.1 115.3,209.2 115.9,209.4 116.6,209.3 117.3,209.4 118.0,209.2 118.6,209.3 119.3,209.2 120.0,209.3 120.6,209.2 121.2,209.0 121.8,209.0 122.4,208.9 123.1,208.8 123.7,208.7 124.3,208.7 124.9,208.7 125.5,208.5 126.1,208.3 126.7,208.4 127.3,208.4 127.9,208.2 128.5,208.1 129.1,208.3 129.7,208.1 130.3,208.1 130.9,208.0 131.5,207.8 132.1,207.7 132.7,207.7 133.3,207.6 134.0,207.4 134.6,207.2 135.2,207.2 135.8,207.0 136.4,206.9 137.0,206.7 137.6,206.6 138.2,206.5 138.8,206.3 139.4,206.1 140.0,206.1 140.6,205.8 141.2,205.6 141.8,205.5 142.5,205.5 143.1,205.2 143.8,205.1 144.4,204.9 145.1,204.8 145.8,204.6 146.4,204.5 147.1,204.3 147.7,204.1 148.4,204.0 149.0,204.0 149.6,204.2 150.2,204.1 150.9,204.1 151.5,204.1 152.1,204.1 152.7,204.2 153.3,204.2 153.9,204.4 154.5,204.7 155.1,204.6 155.8,204.6 156.4,204.9 157.0,204.9 157.6,205.1 158.2,205.2 158.8,205.6 159.4,205.8 160.0,206.1 160.7,206.3 161.3,206.8 161.9,206.9 162.5,207.3 163.1,207.6 163.8,208.1 164.4,208.2 165.0,208.6 165.6,208.9 166.3,209.3 166.9,209.6 167.6,209.5 168.4,209.5 169.1,209.3 169.7,208.9 170.4,208.4 171.0,207.8 171.7,207.5 172.3,207.0 172.9,206.6 173.5,206.4 174.1,206.0 174.8,205.8 175.4,205.3 176.0,205.1 176.6,204.7 177.2,204.4 177.8,204.0 178.5,203.4 179.1,202.9 179.7,202.4 180.4,201.9 181.0,201.5 181.7,201.0 182.4,200.6 183.0,200.2 183.7,200.0 184.4,199.5 185.0,199.8 185.6,200.1 186.2,200.5 186.8,200.8 187.5,201.1 188.1,201.5 188.7,201.9 189.3,202.0 189.9,202.4 190.5,202.8 191.1,203.1 191.7,203.5 192.3,203.6 192.9,204.1 193.5,204.4 194.1,204.5 194.7,205.1 195.3,205.3 195.9,205.5 196.6,205.5 197.2,205.7 197.9,205.8 198.5,206.0 199.1,206.1 199.8,206.3 200.4,206.4 201.0,206.4 201.7,206.3 202.3,206.3 202.9,206.2 203.6,206.3 204.2,206.2 204.8,206.2 205.4,206.2 206.1,206.4 206.7,206.2 207.3,206.3 208.0,206.1 208.6,206.1 209.2,206.2 209.8,206.3 210.5,206.3 211.1,206.5 211.7,206.4 212.3,206.6 212.9,206.4 213.5,206.5 214.2,206.6 214.8,206.5 215.4,206.7 216.0,206.8 216.6,206.6 217.3,206.5 217.9,206.6 218.5,206.4 219.1,206.3 219.7,206.1 220.3,206.1 221.0,206.2 221.6,206.0 222.2,206.1 222.8,206.0 223.4,205.8 224.1,205.6 224.7,205.2 225.3,205.1 225.9,204.8 226.5,204.8 227.1,204.7 227.8,204.4 228.4,204.2 229.0,204.0 229.6,203.8 230.2,203.7 230.9,203.4 231.5,203.2 232.1,203.2 232.7,203.0 233.3,202.8 233.9,202.6 234.6,202.4 235.2,202.2 235.8,202.0 236.4,201.9 237.0,202.0 237.7,201.9 238.3,201.7 238.9,201.7 239.5,201.6 240.1,201.4 240.7,201.4 241.4,201.3 242.0,201.3 242.6,201.3 243.2,201.4 243.8,201.4 244.5,201.3 245.1,201.5 245.7,201.5 246.3,201.5 246.9,201.7 247.5,201.6 248.2,201.8 248.8,201.6 249.4,201.8 250.1,202.0 250.7,202.1 251.4,202.5 252.1,202.6 252.8,202.7 253.4,203.1 254.1,203.2 254.7,203.5 255.4,203.7 256.0,203.9 256.7,204.0 257.3,204.4 258.0,204.4 258.6,204.6 259.4,204.7 260.1,204.7 260.9,205.0 261.6,210.8 262.2,210.6 262.9,210.3 263.5,210.3 264.2,210.0 264.8,210.1 265.5,209.8 266.1,209.6 266.8,209.5 267.4,209.2 268.1,208.9 268.7,208.7 269.4,208.5 270.0,208.1 270.7,208.0 271.3,207.8 271.9,207.7 272.5,207.6 273.1,207.3 273.7,207.3 274.3,207.1 274.9,207.0 275.5,206.9 276.1,206.6 276.7,206.5 277.3,206.5 278.0,206.8 278.6,206.8 279.2,206.8 279.9,206.9 280.5,206.9 281.1,207.0 281.8,207.0 282.4,207.1 283.0,207.3 283.7,207.4 284.3,207.3 284.9,207.5 285.5,207.5 286.1,207.6 286.7,207.5 287.3,207.6 287.9,207.7 288.5,207.7 289.1,207.9 289.7,207.8 290.3,208.0 290.9,208.3 291.6,208.4 292.2,208.5 292.9,208.6 293.5,208.7 294.2,208.9 294.8,209.1 295.4,209.0 296.0,209.1 296.6,209.1 297.2,209.3 297.9,209.4 298.5,209.4 299.1,209.2 299.7,209.2 300.3,209.5 300.9,209.4 301.5,209.5 302.1,209.6 302.8,209.7 303.4,209.7 304.0,209.9 304.6,209.9 305.2,209.9 305.8,209.9 306.4,210.0 307.1,210.2 307.7,210.2 308.3,210.2 308.9,210.2 309.6,210.1 310.2,210.1 310.9,209.9 311.5,209.9 312.1,210.0 312.8,210.0 313.4,209.7 314.0,209.7 314.7,209.6 315.3,209.6 316.0,209.6 316.6,209.5 317.2,209.5 317.9,209.4 318.5,209.3 319.2,209.2 319.8,209.0 320.4,209.0 321.1,209.1 321.7,208.8 322.3,208.8 323.0,208.8 323.6,208.7 324.3,208.6 324.9,208.5 325.5,208.4 326.2,208.5 326.8,208.2 327.5,208.2 328.1,208.2 328.7,208.0 329.4,208.2 330.0,208.2 330.6,207.9 331.3,207.9 331.9,207.9 332.6,207.9 333.2,207.8 333.8,207.8 334.5,208.0 335.1,208.0 335.8,208.0 336.4,208.1 337.0,208.2 337.7,208.2 338.3,208.3 338.9,208.3 339.6,208.4 340.2,208.5 340.9,208.5 341.5,208.5 342.1,208.6 342.8,208.7 343.4,209.0 344.1,209.0 344.8,209.3 345.4,209.6 346.1,209.6 346.7,209.8 347.4,209.9 348.0,210.0 348.6,210.2 349.3,210.4 349.9,210.4 350.5,210.5 351.2,210.8 351.8,211.0 352.6,210.5 353.3,210.2 354.1,209.7 354.7,209.2 355.4,208.5 356.0,207.7 356.7,207.2 357.3,206.3 358.0,205.7 358.6,205.2 359.2,205.1 359.8,204.5 360.4,204.1 361.0,204.0 361.6,203.7 362.2,203.4 362.8,203.1 363.4,202.8 364.0,202.6 364.6,202.2 365.2,202.0 365.8,201.8 366.5,201.8 367.1,201.5 367.7,201.4 368.3,201.6 368.9,201.6 369.6,201.7 370.2,201.7 370.8,201.9 371.4,202.0 372.1,202.0 372.7,202.0 373.3,202.3 373.9,202.3 374.6,202.5 375.2,202.5 375.8,202.5 376.5,202.6 377.1,202.6 377.7,202.6 378.4,202.6 379.0,202.7 379.6,202.8 380.3,202.7 380.9,202.7 381.5,202.9 382.2,203.1 382.8,203.0 383.4,203.0 384.1,203.1 384.7,203.1 385.3,203.1 385.9,203.4 386.6,203.2 387.2,203.4 387.8,203.4 388.4,203.6 389.1,203.7 389.7,203.7 390.3,203.7 390.9,203.8 391.6,204.0 392.2,204.1 392.8,204.1 393.5,204.4 394.1,204.4 394.7,204.6 395.4,204.9 396.0,204.9 396.6,205.0 397.3,205.2 397.9,205.2 398.5,205.2 399.2,205.3 399.8,205.5 400.5,205.7 401.1,205.8 401.8,205.9 402.4,206.2 403.1,206.2 403.7,206.3 404.4,206.3 405.0,206.5 405.6,206.4 406.2,206.3 406.9,206.2 407.5,206.4 408.1,206.2 408.7,206.0 409.4,205.8 410.0,205.6 410.6,205.7 411.2,205.5 411.9,205.5 412.5,205.4 413.1,205.2 413.7,205.2 414.4,205.1 415.0,205.0 415.6,204.9 416.2,204.8 416.9,204.7 417.5,204.7 418.1,204.5 418.7,204.5 419.3,204.3 419.9,204.3 420.5,204.2 421.1,204.1 421.7,204.0 422.3,204.0 423.0,203.9 423.6,203.7 424.2,203.8 424.8,203.6 425.4,203.6 426.0,203.8 426.6,203.6 427.2,203.4 427.8,203.4 428.4,203.6 429.0,204.0 429.6,204.0 430.2,204.1 430.8,204.2 431.4,204.5 432.0,204.6 432.6,204.8 433.2,205.0 433.8,205.2 434.4,205.3 435.0,205.4 435.6,205.7 436.2,205.8 436.8,206.1 437.5,206.1 438.1,206.3 438.8,206.7 439.4,206.6 440.0,206.8 440.7,207.1 441.3,207.3 442.0,207.4 442.6,207.6 443.3,207.2 444.0,206.7 444.6,206.3 445.3,205.8 446.0,205.1 446.7,204.3 447.5,203.6 448.2,203.0 448.9,202.1 449.5,201.8 450.1,201.6 450.7,201.1 451.3,200.7 451.9,200.4 452.5,200.1 453.1,199.9 453.7,199.5 454.3,199.2 455.0,199.0 455.6,198.7 456.3,198.4 456.9,198.1 457.6,198.1 458.3,197.6 458.9,197.6 459.6,197.2 460.2,196.8 460.9,196.7 461.5,196.6 462.1,196.6 462.7,196.9 463.3,196.5 463.9,196.5 464.5,196.6 465.1,196.7 465.7,196.9 466.3,196.7 467.0,197.0 467.6,197.1 468.3,197.5 469.0,197.7 469.7,197.8 470.4,198.1 471.0,198.3 471.7,198.5 472.3,198.6 472.9,198.6 473.5,198.7 474.1,198.8 474.7,198.8 475.4,199.0 476.0,199.1 476.6,199.0 477.2,199.2 477.8,199.2 478.4,199.4 479.0,199.4 479.7,199.5 480.3,199.7 481.0,199.7 481.6,199.8 482.3,199.9 482.9,199.8 483.6,200.0 484.2,200.1 484.9,200.2 485.5,200.3 486.2,200.3 486.8,200.4 487.4,200.6 488.0,200.6 488.6,200.7 489.2,201.0 489.9,201.2 490.5,201.3 491.1,201.4 491.7,201.6 492.3,201.8 492.9,201.8 493.5,202.0 494.2,202.1 494.9,202.2 495.5,202.3 496.2,202.3 496.9,202.3 497.5,202.3 498.2,202.3 498.9,202.5 499.5,202.4 500.1,202.4 500.7,202.3 501.3,202.2 501.9,202.1 502.5,202.1 503.1,202.1 503.7,202.0 504.3,201.9 504.9,201.8 505.6,201.8 506.2,201.7 506.9,201.5 507.5,201.5 508.2,201.1 508.8,201.3 509.5,201.1 510.1,201.0 510.7,200.8 511.4,200.6 512.0,200.5 512.6,200.2 513.3,200.1 513.9,199.9 514.5,199.9 515.2,199.6 515.8,199.4 516.4,199.2 517.1,199.1 517.7,198.9 518.3,198.9 519.0,198.9 519.6,199.1 520.2,199.0 520.8,199.1 521.5,199.2 522.1,199.4 522.7,199.4 523.3,199.4 524.0,199.4 524.6,199.5 525.2,199.5 525.8,199.7 526.5,200.0 527.1,200.1 527.7,200.2 528.4,200.2 529.0,200.4 529.6,200.6 530.3,200.7 530.9,201.0 531.5,201.1 532.2,201.3 532.8,201.4 533.4,201.7 534.1,201.8 534.7,201.9 535.4,202.2 536.0,202.4 536.7,202.6 537.3,202.9 538.0,202.0 538.8,201.0" fill="none" stroke="#ff0000" stroke-width="2.5" stroke-linejoin="round" stroke-linecap="round"/>
<rect x="76.5" y="12" width="462.5" height="117" fill="none" stroke="#555" stroke-width="1.2"/>
<line x1="76.5" y1="41.25" x2="81.5" y2="41.25" stroke="#555" stroke-width="1.2"/>
<line x1="76.5" y1="70.5" x2="81.5" y2="70.5" stroke="#555" stroke-width="1.2"/>
<line x1="76.5" y1="99.75" x2="81.5" y2="99.75" stroke="#555" stroke-width="1.2"/>
<rect x="76.5" y="157" width="462.5" height="117" fill="none" stroke="#555" stroke-width="1.2"/>
<line x1="76.5" y1="186.25" x2="81.5" y2="186.25" stroke="#555" stroke-width="1.2"/>
<line x1="76.5" y1="215.5" x2="81.5" y2="215.5" stroke="#555" stroke-width="1.2"/>
<line x1="76.5" y1="244.75" x2="81.5" y2="244.75" stroke="#555" stroke-width="1.2"/>
<line x1="169.0" y1="274" x2="169.0" y2="269" stroke="#555" stroke-width="1.2"/>
<line x1="261.5" y1="274" x2="261.5" y2="269" stroke="#555" stroke-width="1.2"/>
<line x1="354.0" y1="274" x2="354.0" y2="269" stroke="#555" stroke-width="1.2"/>
<line x1="446.5" y1="274" x2="446.5" y2="269" stroke="#555" stroke-width="1.2"/>
<text x="71.5" y="16.70" text-anchor="end" class="ytk" textLength="50.4" lengthAdjust="spacingAndGlyphs">−613,998</text>
<text x="71.5" y="45.95" text-anchor="end" class="ytk" textLength="50.4" lengthAdjust="spacingAndGlyphs">−613,999</text>
<text x="71.5" y="75.20" text-anchor="end" class="ytk" textLength="50.4" lengthAdjust="spacingAndGlyphs">−614,000</text>
<text x="71.5" y="104.45" text-anchor="end" class="ytk" textLength="50.4" lengthAdjust="spacingAndGlyphs">−614,001</text>
<text x="71.5" y="133.70" text-anchor="end" class="ytk" textLength="50.4" lengthAdjust="spacingAndGlyphs">−614,002</text>
<text x="71.5" y="161.70" text-anchor="end" class="ytk" textLength="50.4" lengthAdjust="spacingAndGlyphs">−468,306</text>
<text x="71.5" y="190.95" text-anchor="end" class="ytk" textLength="50.4" lengthAdjust="spacingAndGlyphs">−468,307</text>
<text x="71.5" y="220.20" text-anchor="end" class="ytk" textLength="50.4" lengthAdjust="spacingAndGlyphs">−468,308</text>
<text x="71.5" y="249.45" text-anchor="end" class="ytk" textLength="50.4" lengthAdjust="spacingAndGlyphs">−468,309</text>
<text x="71.5" y="278.70" text-anchor="end" class="ytk" textLength="50.4" lengthAdjust="spacingAndGlyphs">−468,310</text>
<text x="76.50" y="291" text-anchor="middle" class="xtk" textLength="12.7" lengthAdjust="spacingAndGlyphs">61</text>
<text x="169.00" y="291" text-anchor="middle" class="xtk" textLength="12.7" lengthAdjust="spacingAndGlyphs">62</text>
<text x="261.50" y="291" text-anchor="middle" class="xtk" textLength="12.7" lengthAdjust="spacingAndGlyphs">63</text>
<text x="354.00" y="291" text-anchor="middle" class="xtk" textLength="12.7" lengthAdjust="spacingAndGlyphs">64</text>
<text x="446.50" y="291" text-anchor="middle" class="xtk" textLength="12.7" lengthAdjust="spacingAndGlyphs">65</text>
<text x="539.00" y="291" text-anchor="middle" class="xtk" textLength="12.7" lengthAdjust="spacingAndGlyphs">66</text>
<text x="87" y="30.8" class="ttl" textLength="70.7" lengthAdjust="spacingAndGlyphs">APM7-APM8</text>
<text x="87" y="175.8" class="ttl" textLength="70.7" lengthAdjust="spacingAndGlyphs">APM7-APM9</text>
<text transform="translate(14,71.3) rotate(-90)" text-anchor="middle" class="yl" textLength="113.8" lengthAdjust="spacingAndGlyphs">Time difference (ns)</text>
<text transform="translate(14,216.3) rotate(-90)" text-anchor="middle" class="yl" textLength="113.8" lengthAdjust="spacingAndGlyphs">Time difference (ns)</text>
<text x="307.5" y="306" text-anchor="middle" class="xl" textLength="26.0" lengthAdjust="spacingAndGlyphs">DOY</text>
<line x1="215" y1="321" x2="251.5" y2="321" stroke="#0000ff" stroke-width="2"/>
<text x="254" y="325.5" class="lg" textLength="46.2" lengthAdjust="spacingAndGlyphs">Model A</text>
<line x1="309" y1="321" x2="345" y2="321" stroke="#ff0000" stroke-width="2"/>
<text x="348" y="325.5" class="lg" textLength="46.7" lengthAdjust="spacingAndGlyphs">Model B</text>
</svg>
</body></html>
